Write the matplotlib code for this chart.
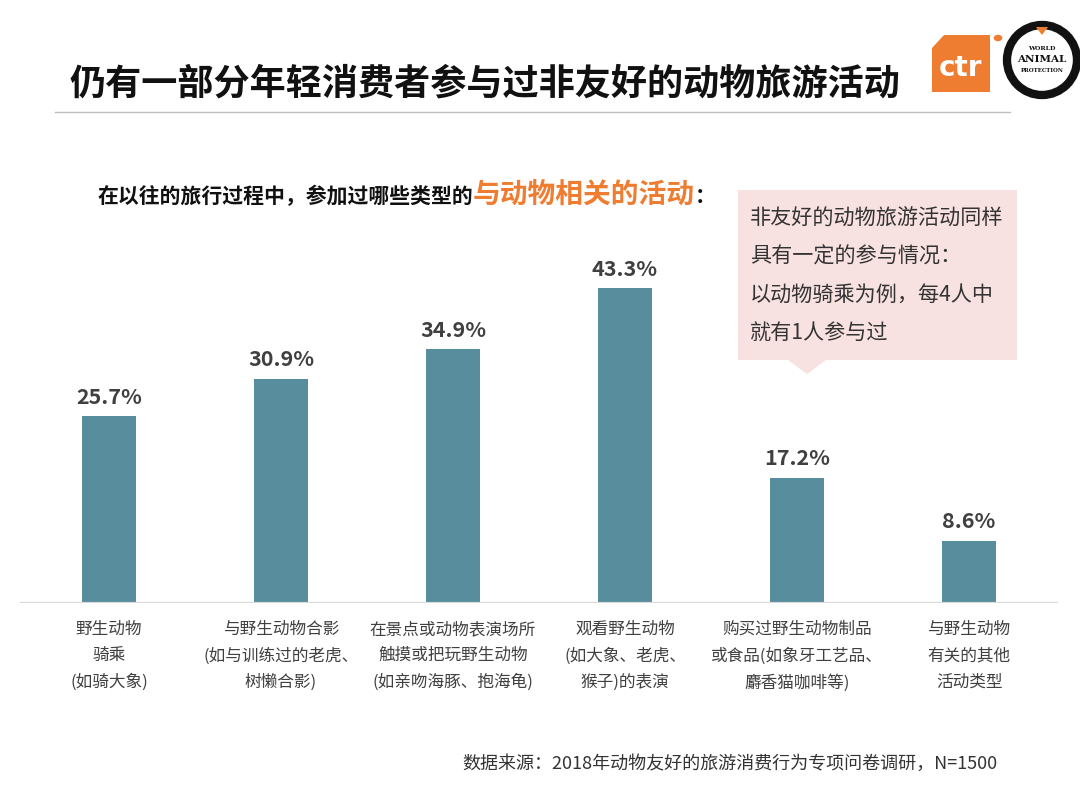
import matplotlib
matplotlib.use("Agg")
import matplotlib.pyplot as plt
import matplotlib.patches as mpatches

plt.rcParams["font.family"] = ["Noto Sans CJK SC", "DejaVu Sans"]

# ── 数据 ──
categories = [
    "野生动物\n骑乘\n(如骑大象)",
    "与野生动物合影\n(如与训练过的老虎、\n树懒合影)",
    "在景点或动物表演场所\n触摸或把玩野生动物\n(如亲吻海豚、抱海龟)",
    "观看野生动物\n(如大象、老虎、\n猴子)的表演",
    "购买过野生动物制品\n或食品(如象牙工艺品、\n麝香猫咖啡等)",
    "与野生动物\n有关的其他\n活动类型",
]
values = [25.7, 30.9, 34.9, 43.3, 17.2, 8.6]

title = "仍有一部分年轻消费者参与过非友好的动物旅游活动"
question_a = "在以往的旅行过程中，参加过哪些类型的"
question_b = "与动物相关的活动"
question_c = "："
note_lines = ["非友好的动物旅游活动同样", "具有一定的参与情况：", "以动物骑乘为例，每4人中", "就有1人参与过"]
source = "数据来源：2018年动物友好的旅游消费行为专项问卷调研，N=1500"

BAR = "#578D9C"
ORANGE = "#EE7D31"

W, H = 1080, 810
fig = plt.figure(figsize=(10.8, 8.1), dpi=100)

def fx(px):
    return px / W

def fy(py):
    return 1 - py / H

# ── 柱状图 ──
ax = fig.add_axes([fx(20), fy(603), fx(1058) - fx(20), fy(170) - fy(603)])
x = list(range(len(values)))
ax.bar(x, values, width=0.314, color=BAR, zorder=2)
for xi, v in zip(x, values):
    ax.text(xi, v + 1.2, f"{v}%", ha="center", va="bottom", fontsize=15.5,
            fontweight="bold", color="#404040")
ax.axhline(0, color="#D9D9D9", lw=1.6, zorder=3)
ax.set_xlim(-0.517, 5.517)
ax.set_ylim(0, 59.6)
ax.set_xticks(x)
ax.set_xticklabels(categories, fontsize=12, color="#404040", linespacing=1.7)
ax.tick_params(axis="x", length=0, pad=13)
ax.set_yticks([])
for s in ax.spines.values():
    s.set_visible(False)

# ── 标题 ──
fig.text(fx(70), fy(84), title, fontsize=26, fontweight="bold", color="#111111",
         va="center", ha="left")
fig.add_artist(plt.Line2D([fx(55), fx(1010)], [fy(112), fy(112)], color="#BFBFBF", lw=1))

# 副标题（分段着色）
fig.canvas.draw()
r = fig.canvas.get_renderer()
t1 = fig.text(fx(97), fy(203), question_a, fontsize=15, fontweight="bold",
              color="#111111", va="baseline")
bb = t1.get_window_extent(r)
t2 = fig.text(bb.x1 / W, fy(203), question_b, fontsize=20, fontweight="bold",
              color=ORANGE, va="baseline")
bb2 = t2.get_window_extent(r)
fig.text(bb2.x1 / W, fy(203), question_c, fontsize=15, fontweight="bold",
         color="#111111", va="baseline")

# ── 提示框 ──
box = mpatches.Rectangle((fx(738), fy(360)), fx(1017) - fx(738), fy(190) - fy(360),
                         transform=fig.transFigure, facecolor="#F8E1E1",
                         edgecolor="none", zorder=1)
fig.add_artist(box)
tri = mpatches.Polygon([(fx(788), fy(360)), (fx(826), fy(360)), (fx(807), fy(374))],
                       closed=True, transform=fig.transFigure,
                       facecolor="#F8E1E1", edgecolor="none", zorder=1)
fig.add_artist(tri)
for i, line in enumerate(note_lines):
    fig.text(fx(750), fy(219 + i * 38), line, fontsize=15.2, color="#333333",
             va="center", ha="left", zorder=2)

# ── 来源 ──
fig.text(fx(997), fy(764), source, fontsize=13, color="#333333",
         ha="right", va="center")

# ── 标志 ──
logo = mpatches.Polygon([(fx(944), fy(35)), (fx(990), fy(35)), (fx(990), fy(92)),
                         (fx(932), fy(92)), (fx(932), fy(48))], closed=True,
                        transform=fig.transFigure, facecolor=ORANGE, edgecolor="none")
fig.add_artist(logo)
fig.text(fx(961), fy(68), "ctr", fontsize=20, fontweight="bold", color="white",
         ha="center", va="center", family="DejaVu Sans")
fig.add_artist(mpatches.Circle((fx(998), fy(38)), 0.004, transform=fig.transFigure,
                               facecolor=ORANGE, edgecolor="none"))
ring = mpatches.Ellipse((fx(1042), fy(60)), fx(70), 70 / H, transform=fig.transFigure,
                        facecolor="white", edgecolor="#111111", lw=6)
fig.add_artist(ring)
fig.add_artist(mpatches.Polygon([(fx(1036), fy(27)), (fx(1048), fy(27)), (fx(1042), fy(35))],
                                closed=True, transform=fig.transFigure,
                                facecolor=ORANGE, edgecolor="none"))
for dy, s, fs in [(-12, "WORLD", 4.5), (0, "ANIMAL", 7.5), (11, "PROTECTION", 4)]:
    fig.text(fx(1042), fy(60 + dy), s, fontsize=fs, fontweight="bold",
             color="#111111", ha="center", va="center", family="DejaVu Serif")

fig.savefig("out.png", dpi=100)
